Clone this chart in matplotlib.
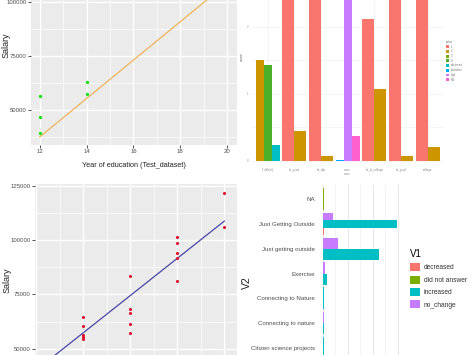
import numpy as np
import matplotlib
matplotlib.use("Agg")
import matplotlib.pyplot as plt
from matplotlib.patches import Patch

plt.rcParams['font.family'] = ['Liberation Sans Narrow', 'Liberation Sans', 'DejaVu Sans']

# ---------------- data ----------------
# Panel 1 (top-left): test set scatter + fitted line
p1_edu = [12, 12, 12, 14, 14]
p1_salary = [56600, 46600, 39500, 63100, 57400]
p1_fit_x = [12, 20]
p1_fit_y = [37600, 108560]
p1_xticks = [12, 14, 16, 18, 20]
p1_yticks = [50000, 75000, 100000]

# Panel 2 (top-right): dodged bars
p2_groups = ["1 (dfr/ct)", "hs_grad", "hs_dip", "none\nnone", "hs_&_college", "hs_grad", "college"]
p2_levels = ["1", "2", "3", "4", "advanced", "bachelors", "high", "NA"]
p2_colors = ["#F8766D", "#CD9600", "#7CAE00", "#4DB02A", "#00BFC4", "#00A9FF", "#C77CFF", "#FF61CC"]
nan = np.nan
p2_values = [
    [nan, 3.0, 3.0, nan, 2.12, 3.0, 3.0],      # 1
    [1.51, 0.45, 0.075, nan, 1.07, 0.075, 0.21],  # 2
    [nan, nan, nan, nan, nan, nan, nan],        # 3
    [1.44, nan, nan, nan, nan, nan, nan],       # 4
    [0.24, nan, nan, nan, nan, nan, nan],       # advanced
    [nan, nan, nan, 0.012, nan, nan, nan],      # bachelors
    [nan, nan, nan, 3.0, nan, nan, nan],        # high
    [nan, nan, nan, 0.37, nan, nan, nan],       # NA
]
p2_yticklabels = ["0", "1", "2"]

# Panel 3 (bottom-left): training set scatter + fitted line
p3_exp = [1, 1, 1, 1, 1, 2, 2, 2, 2, 2, 3, 3, 3, 3, 3, 4, 4]
p3_salary = [64800, 60500, 56500, 55500, 54500,
             83300, 68200, 66400, 61400, 57300,
             101600, 98500, 94200, 91800, 81300,
             121900, 105900]
p3_fit_x = [0, 4]
p3_fit_y = [40240, 108800]
p3_yticks = [50000, 75000, 100000, 125000]

# Panel 4 (bottom-right): horizontal dodged bars
p4_cats = ["Citizen science projects", "Connecting to nature", "Connecting to Nature",
           "Exercise", "Just getting outside", "Just Getting Outside", "NA"]
p4_levels = ["decreased", "did not answer", "increased", "no_change"]
p4_colors = ["#F8766D", "#7CAE00", "#00BFC4", "#C77CFF"]
p4_decreased = [nan, nan, nan, nan, nan, 0.3, nan]
p4_no_answer = [nan, nan, nan, nan, nan, nan, 0.4]
p4_increased = [0.3, 0.5, 0.4, 1.8, 22.6, 29.8, nan]
p4_no_change = [nan, 0.3, nan, 0.8, 6.2, 4.2, nan]

# ---------------- figure ----------------
W, H = 474, 355
fig = plt.figure(figsize=(W / 100, H / 100), dpi=100)


def ax_px(l, t, r, b):
    return fig.add_axes([l / W, 1 - b / H, (r - l) / W, (b - t) / H])


def gg_grey(ax, xmaj, xmin, ymaj, ymin):
    ax.set_facecolor("#EBEBEB")
    for s in ax.spines.values():
        s.set_visible(False)
    for v in xmin:
        ax.axvline(v, color="white", lw=0.5, zorder=0)
    for v in ymin:
        ax.axhline(v, color="white", lw=0.5, zorder=0)
    for v in xmaj:
        ax.axvline(v, color="white", lw=1.0, zorder=0)
    for v in ymaj:
        ax.axhline(v, color="white", lw=1.0, zorder=0)
    ax.tick_params(length=2, width=0.6, color="#333333", labelcolor="#4D4D4D",
                   labelsize=4.3, pad=1.2)


# ---- Panel 1
ax1 = ax_px(31, 0, 237, 145)
ax1.set_xlim(11.62, 20.43)
ax1.set_ylim(33800, 100900)
gg_grey(ax1, p1_xticks, [13, 15, 17, 19], p1_yticks, [37500, 62500, 87500])
ax1.plot(p1_fit_x, p1_fit_y, color="#EFB868", lw=1.0, zorder=2)
ax1.scatter(p1_edu, p1_salary, s=6, color="#22E022", zorder=3, linewidths=0)
ax1.set_xticks(p1_xticks)
ax1.set_xticklabels([str(v) for v in p1_xticks])
ax1.set_yticks(p1_yticks)
ax1.set_yticklabels([str(v) for v in p1_yticks])
fig.text(134 / W, 1 - 165 / H, "Year of education (Test_dataset)", ha="center", va="center",
         fontsize=5.2, color="#222222")
fig.text(6 / W, 1 - 45 / H, "Salary", ha="center", va="center", rotation=90,
         fontsize=6.5, color="#222222")

# ---- Panel 2
ax2 = ax_px(251.5, 0, 443.7, 165)
ax2.set_xlim(0.4, 7.6)
ax2.set_ylim(-0.06, 2.403)
for s in ax2.spines.values():
    s.set_visible(False)
ax2.set_facecolor("white")
gx = np.arange(1, len(p2_groups) + 1)
for v in gx:
    ax2.axvline(v, color="#F2F2F2", lw=0.5, zorder=0)
for v in [0, 0.5, 1, 1.5, 2]:
    ax2.axhline(v, color="#F2F2F2", lw=0.5, zorder=0)
for gi in range(len(p2_groups)):
    present = [li for li in range(len(p2_levels)) if not np.isnan(p2_values[li][gi])]
    n = len(present)
    w = 0.9 / n
    for k, li in enumerate(present):
        xc = gx[gi] - 0.45 + w * (k + 0.5)
        ax2.bar(xc, p2_values[li][gi], width=w, color=p2_colors[li], zorder=2)
ax2.set_xticks(gx)
ax2.set_xticklabels(p2_groups, fontsize=2.2, color="#888888")
ax2.set_yticks([0, 1, 2])
ax2.set_yticklabels(p2_yticklabels, fontsize=2.2, color="#888888")
ax2.tick_params(length=0, pad=2)
fig.text(242 / W, 1 - 57 / H, "count", rotation=90, fontsize=2.5, color="#666666",
         ha="center", va="center")
h2 = [Patch(facecolor=c, edgecolor="none") for c in p2_colors]
leg2 = ax2.legend(h2, p2_levels, loc="upper left", bbox_to_anchor=(446 / W, 1 - 40 / H),
                  bbox_transform=fig.transFigure, frameon=False, fontsize=2.0,
                  title="value", title_fontsize=2.2, handlelength=1.2, handleheight=1.2,
                  labelspacing=0.25, handletextpad=0.6, borderpad=0, borderaxespad=0)
leg2._legend_box.align = "left"
for t in leg2.get_texts():
    t.set_color("#777777")
leg2.get_title().set_color("#777777")

# ---- Panel 3
ax3 = ax_px(35, 184, 237, 355)
ax3.set_xlim(-0.03, 4.27)
ax3.set_ylim(47100, 125900)
gg_grey(ax3, [0, 1, 2, 3, 4], [0.5, 1.5, 2.5, 3.5], p3_yticks, [62500, 87500, 112500])
ax3.plot(p3_fit_x, p3_fit_y, color="#4646A6", lw=0.9, zorder=2)
ax3.scatter(p3_exp, p3_salary, s=5, color="#E0102A", zorder=3, linewidths=0)
ax3.set_xticks([])
ax3.set_yticks(p3_yticks)
ax3.set_yticklabels([str(v) for v in p3_yticks])
fig.text(7 / W, 1 - 280 / H, "Salary", ha="center", va="center", rotation=90,
         fontsize=6.5, color="#222222")

# ---- Panel 4
ax4 = ax_px(319, 184.5, 401, 355)
ax4.set_xlim(-1.5, 31.3)
ax4.set_ylim(-0.295, 6.6)
ax4.set_facecolor("white")
for s in ax4.spines.values():
    s.set_visible(False)
for v in [0, 10, 20, 30]:
    ax4.axvline(v, color="#E6E6E6", lw=0.7, zorder=0)
for v in [5, 15, 25]:
    ax4.axvline(v, color="#EEEEEE", lw=0.5, zorder=0)
p4_series = [p4_decreased, p4_no_answer, p4_increased, p4_no_change]
cy = np.arange(len(p4_cats))
for ci in range(len(p4_cats)):
    present = [li for li in range(4) if not np.isnan(p4_series[li][ci])]
    n = len(present)
    h = 0.9 / n
    for k, li in enumerate(present):
        yc = cy[ci] - 0.45 + h * (k + 0.5)
        ax4.barh(yc, p4_series[li][ci], height=h, color=p4_colors[li], zorder=2)
ax4.set_yticks(cy)
ax4.set_yticklabels(p4_cats, fontsize=4.4, color="#4D4D4D")
ax4.set_xticks([])
ax4.tick_params(length=0, pad=3)
fig.text(247 / W, 1 - 283 / H, "V2", rotation=90, fontsize=7.5, color="#222222",
         ha="center", va="center")
h4 = [Patch(facecolor=c, edgecolor="none") for c in p4_colors]
leg4 = ax4.legend(h4, p4_levels, loc="upper left", bbox_to_anchor=(410 / W, 1 - 249 / H),
                  bbox_transform=fig.transFigure, frameon=False, fontsize=4.8,
                  title="V1", title_fontsize=7, handlelength=1.5, handleheight=1.5,
                  labelspacing=0.62, handletextpad=0.6, borderpad=0, borderaxespad=0)
leg4._legend_box.align = "left"
for t in leg4.get_texts():
    t.set_color("#333333")

fig.savefig("out.png", dpi=100)
